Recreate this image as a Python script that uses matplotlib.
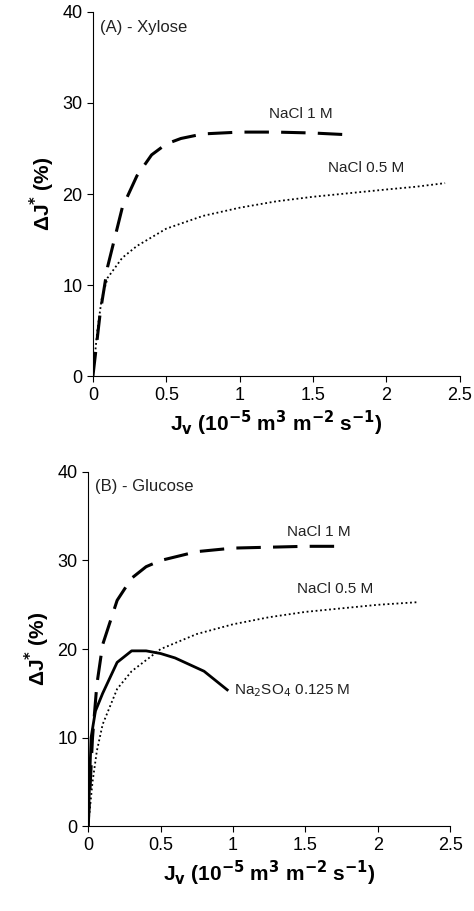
import matplotlib
matplotlib.use("Agg")
import matplotlib.pyplot as plt

plt.rcParams['font.family'] = ['Liberation Sans', 'DejaVu Sans']
plt.rcParams['axes.unicode_minus'] = False

# Panel A - Xylose
xa_nacl1 = [0, 0.05, 0.1, 0.2, 0.3, 0.4, 0.5, 0.6, 0.75, 1.0, 1.25, 1.5, 1.75]
ya_nacl1 = [0, 7, 12, 18.5, 22, 24.3, 25.5, 26.1, 26.6, 26.8, 26.8, 26.7, 26.5]
xa_nacl05 = [0, 0.03, 0.06, 0.1, 0.2, 0.3, 0.5, 0.75, 1.0, 1.25, 1.5, 1.75, 2.0, 2.2, 2.4]
ya_nacl05 = [0, 5, 8.5, 10.8, 13, 14.3, 16.2, 17.6, 18.5, 19.2, 19.7, 20.1, 20.5, 20.8, 21.2]

# Panel B - Glucose
xb_nacl1 = [0, 0.03, 0.06, 0.1, 0.2, 0.3, 0.4, 0.5, 0.75, 1.0, 1.25, 1.5, 1.75]
yb_nacl1 = [0, 10, 16, 20.5, 25.5, 28, 29.3, 30, 31, 31.4, 31.5, 31.6, 31.6]
xb_nacl05 = [0, 0.03, 0.06, 0.1, 0.2, 0.3, 0.5, 0.75, 1.0, 1.25, 1.5, 1.75, 2.0, 2.28]
yb_nacl05 = [0, 5, 8.5, 11.5, 15.5, 17.5, 20, 21.7, 22.8, 23.6, 24.2, 24.6, 25.0, 25.3]
xb_na2so4 = [0, 0.02, 0.05, 0.1, 0.2, 0.3, 0.4, 0.5, 0.6, 0.8, 0.96]
yb_na2so4 = [0, 10, 13, 15, 18.5, 19.8, 19.8, 19.5, 19.0, 17.5, 15.4]

xticks = [0, 0.5, 1, 1.5, 2, 2.5]
xticklabels = ['0', '0.5', '1', '1.5', '2', '2.5']
yticks = [0, 10, 20, 30, 40]

fig = plt.figure(figsize=(4.74, 9.11), dpi=100)
ax1 = fig.add_axes([0.196, 0.587, 0.774, 0.400])
ax2 = fig.add_axes([0.186, 0.093, 0.764, 0.389])

tc = '#222222'
ax1.plot(xa_nacl1, ya_nacl1, color='black', lw=2.2, dashes=(8, 4))
ax1.plot(xa_nacl05, ya_nacl05, color='black', lw=1.3, linestyle=(0, (1, 1.5)))
ax1.text(1.2, 28.3, 'NaCl 1 M', fontsize=11, color=tc)
ax1.text(1.6, 22.4, 'NaCl 0.5 M', fontsize=11, color=tc)
ax1.text(0.05, 37.8, '(A) - Xylose', fontsize=12, color=tc)

ax2.plot(xb_nacl1, yb_nacl1, color='black', lw=2.2, dashes=(8, 4))
ax2.plot(xb_nacl05, yb_nacl05, color='black', lw=1.3, linestyle=(0, (1, 1.5)))
ax2.plot(xb_na2so4, yb_na2so4, color='black', lw=2.0)
ax2.text(1.37, 32.8, 'NaCl 1 M', fontsize=11, color=tc)
ax2.text(1.44, 26.3, 'NaCl 0.5 M', fontsize=11, color=tc)
ax2.text(1.01, 15.3, 'Na$_2$SO$_4$ 0.125 M', fontsize=11, va='center', color=tc)
ax2.text(0.05, 37.8, '(B) - Glucose', fontsize=12, color=tc)

for ax in (ax1, ax2):
    ax.set_xlim(0, 2.5)
    ax.set_ylim(0, 40)
    ax.set_xticks(xticks)
    ax.set_xticklabels(xticklabels)
    ax.set_yticks(yticks)
    ax.spines['top'].set_visible(False)
    ax.spines['right'].set_visible(False)
    ax.tick_params(labelsize=13, direction='out', length=4)
    ax.set_xlabel('J$_\\mathbf{v}$ (10$^\\mathbf{-5}$ m$^\\mathbf{3}$ m$^\\mathbf{-2}$ s$^\\mathbf{-1}$)',
                  fontsize=15, fontweight='bold')
    ax.set_ylabel('ΔJ$^\\mathbf{*}$ (%)', fontsize=15, fontweight='bold')

fig.savefig('out.png', dpi=100)
